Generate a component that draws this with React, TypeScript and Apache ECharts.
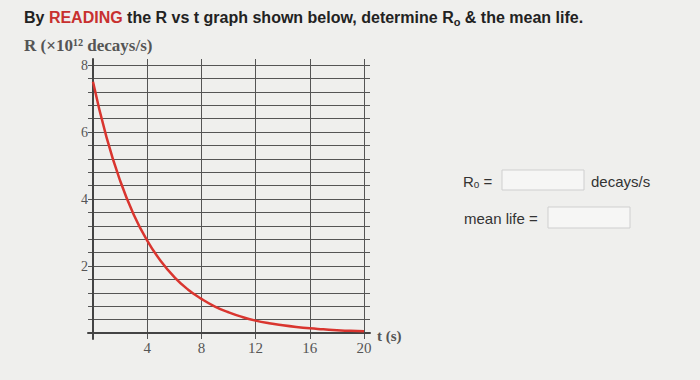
import React, { useEffect, useRef } from "react";
import * as echarts from "echarts";

const T = [0, 1, 2, 3, 4, 5, 6, 7, 8, 9, 10, 11, 12, 13, 14, 15, 16, 17, 18, 19, 20];
const R = [7.5, 5.84, 4.55, 3.54, 2.76, 2.15, 1.67, 1.3, 1.02, 0.79, 0.62, 0.48, 0.37, 0.29, 0.23, 0.18, 0.14, 0.11, 0.08, 0.065, 0.05];
const X_TICKS = [4, 8, 12, 16, 20];
const Y_TICKS = [2, 4, 6, 8];

const GRID = "#555555";
const SERIF = "'Liberation Serif', 'DejaVu Serif', serif";
const SANS = "'Liberation Sans', Arial, sans-serif";

export default function App() {
  const ref = useRef<HTMLDivElement>(null);
  useEffect(() => {
    document.body.style.margin = "0";
    const chart = echarts.init(ref.current!, null, { renderer: "svg" });
    const near = (v: number, arr: number[]) => arr.some((a) => Math.abs(a - v) < 1e-6);
    chart.setOption({
      animation: false,
      backgroundColor: "#efefed",
      grid: [
        { left: 88, right: 330, top: 65, bottom: 47 },
        { left: 93, right: 336, top: 59, bottom: 41 },
        { left: 93, right: 336, top: 65, bottom: 47 },
      ],
      xAxis: [
        {
          gridIndex: 0, type: "value", min: 0, max: 1,
          axisLine: { show: true, lineStyle: { color: "#444", width: 2 } },
          axisTick: { show: false }, axisLabel: { show: false }, splitLine: { show: false },
        },
        {
          gridIndex: 1, type: "value", min: 0, max: 20, interval: 4,
          axisLine: { show: false }, axisTick: { show: false }, axisLabel: { show: false },
          splitLine: { show: true, lineStyle: { color: GRID, width: 1 } },
        },
        {
          gridIndex: 2, type: "value", min: 0, max: 20, interval: 4,
          axisLine: { show: false }, axisTick: { show: false }, splitLine: { show: false },
          axisLabel: {
            margin: 7, color: "#555", fontFamily: SERIF, fontSize: 15,
            formatter: (v: number) => (near(v, X_TICKS) ? String(v) : ""),
          },
        },
      ],
      yAxis: [
        {
          gridIndex: 0, type: "value", min: 0, max: 8, interval: 0.4,
          axisLine: { show: false }, axisTick: { show: false }, axisLabel: { show: false },
          splitLine: { show: true, lineStyle: { color: GRID, width: 1 } },
        },
        {
          gridIndex: 1, type: "value", min: 0, max: 1,
          axisLine: { show: true, lineStyle: { color: "#444", width: 2 } },
          axisTick: { show: false }, axisLabel: { show: false }, splitLine: { show: false },
        },
        {
          gridIndex: 2, type: "value", min: 0, max: 8, interval: 2,
          axisLine: { show: false }, axisTick: { show: false }, splitLine: { show: false },
          axisLabel: {
            margin: 5, color: "#555", fontFamily: SERIF, fontSize: 14,
            formatter: (v: number) => (near(v, Y_TICKS) ? String(v) : ""),
          },
        },
      ],
      series: [
        {
          type: "line", xAxisIndex: 2, yAxisIndex: 2, smooth: true, showSymbol: false,
          lineStyle: { color: "#d9352f", width: 2.5 },
          data: T.map((t, i) => [t, R[i]]),
        },
      ],
      graphic: [
        {
          type: "text", x: 24, y: 17,
          style: {
            text: "{b|By }{r|READING}{b| the R vs t graph shown below, determine R}{s|o}{b| & the mean life.}",
            verticalAlign: "middle",
            rich: {
              b: { fontFamily: SANS, fontWeight: "bold", fontSize: 16, fill: "#222", lineHeight: 20 },
              r: { fontFamily: SANS, fontWeight: "bold", fontSize: 16, fill: "#c8302f", lineHeight: 20 },
              s: { fontFamily: SANS, fontWeight: "bold", fontSize: 11, fill: "#222", lineHeight: 20, padding: [9, 0, 0, 0] },
            },
          },
        },
        {
          type: "text", x: 24, y: 45,
          style: { text: "R (×10¹² decays/s)", font: `bold 17px ${SERIF}`, fill: "#555", verticalAlign: "middle" },
        },
        {
          type: "text", x: 377, y: 336,
          style: { text: "t (s)", font: `bold 15px ${SERIF}`, fill: "#555", verticalAlign: "middle" },
        },
        {
          type: "text", x: 463, y: 181,
          style: {
            text: "{a|R}{s|o}{a| =}",
            verticalAlign: "middle",
            rich: {
              a: { fontFamily: SANS, fontSize: 15, fill: "#333", lineHeight: 18 },
              s: { fontFamily: SANS, fontSize: 10, fill: "#333", lineHeight: 18, padding: [7, 0, 0, 0] },
            },
          },
        },
        { type: "rect", shape: { x: 502, y: 170, width: 82, height: 20 }, style: { fill: "#f6f6f5", stroke: "#cfcfcf", lineWidth: 1 } },
        {
          type: "text", x: 591, y: 181,
          style: { text: "decays/s", font: `15px ${SANS}`, fill: "#333", verticalAlign: "middle" },
        },
        {
          type: "text", x: 464, y: 218,
          style: { text: "mean life =", font: `15px ${SANS}`, fill: "#333", verticalAlign: "middle" },
        },
        { type: "rect", shape: { x: 548, y: 207, width: 82, height: 21 }, style: { fill: "#f6f6f5", stroke: "#cfcfcf", lineWidth: 1 } },
      ],
    });
    return () => chart.dispose();
  }, []);
  return <div ref={ref} style={{ position: "absolute", left: 0, top: 0, width: 700, height: 380 }} />;
}
